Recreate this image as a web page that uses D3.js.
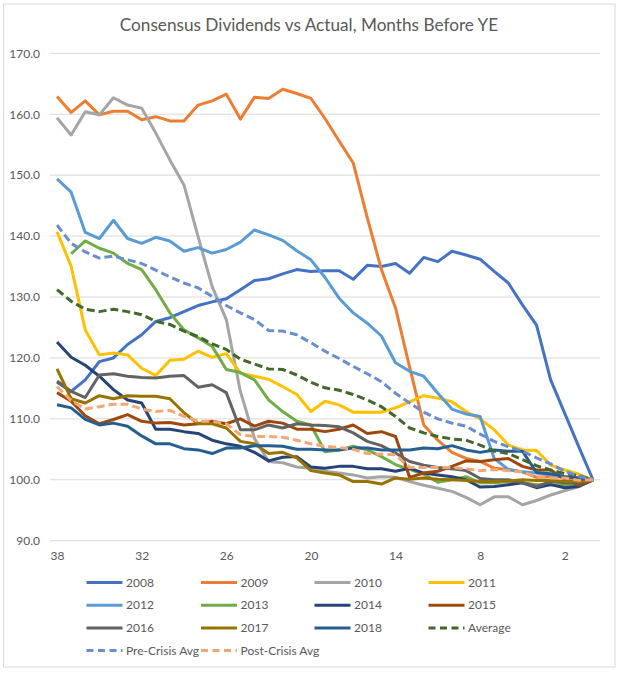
<!DOCTYPE html>
<html>
<head>
<meta charset="utf-8">
<script src="https://cdn.jsdelivr.net/npm/d3@7"></script>
<style>
  body { margin: 0; background: #fff; }
  text { font-family: Lato, "Liberation Sans", sans-serif; fill: #595959; }
</style>
</head>
<body>
<div id="chart"></div>
<script>
// months before year end, left to right
const months = d3.range(38, -1, -1);
const xTicks = [38, 32, 26, 20, 14, 8, 2];
const yTicks = [90, 100, 110, 120, 130, 140, 150, 160, 170];

const s2008 = [116, 114.5, 116.4, 119.4, 120, 122.2, 123.8, 126, 126.6, 127.6, 128.6, 129.2, 129.7, 131.2, 132.7, 133, 133.8, 134.5, 134.2, 134.3, 134.3, 132.9, 135.2, 135, 135.5, 133.9, 136.5, 135.8, 137.5, 136.9, 136.2, 134.2, 132.3, 128.7, 125.4, 116.4, 110.9, 105.4, 100];
const s2009 = [162.9, 160.3, 162.2, 159.9, 160.5, 160.5, 159.1, 159.6, 158.9, 158.9, 161.5, 162.2, 163.3, 159.2, 162.8, 162.6, 164.1, 163.4, 162.6, 159.3, 155.6, 152, 143, 134.5, 128.2, 118.5, 109, 106.5, 104.5, 103.5, 103, 101.9, 101.7, 101.3, 100.4, 100.5, 100.4, 100, 100];
const s2010 = [159.4, 156.6, 160.4, 159.9, 162.7, 161.5, 161, 156.9, 152.5, 148.4, 139.9, 131.7, 126.3, 114.5, 106.8, 103, 102.8, 102.1, 101.9, 101.4, 101.1, 100.8, 100.3, 100.5, 100.4, 99.7, 99.1, 98.6, 98.1, 97.1, 95.9, 97.2, 97.2, 95.9, 96.6, 97.5, 98.2, 98.9, 100];
const s2011 = [140.7, 135, 124.6, 120.5, 120.8, 120.5, 118.3, 117.1, 119.6, 119.8, 121.1, 120.1, 120.7, 117.5, 117, 116.5, 115.3, 114, 111.2, 112.9, 112.3, 111.1, 111.1, 111.1, 111.8, 112.8, 113.8, 113.4, 112.8, 111.2, 110, 108.2, 105.7, 104.9, 104.8, 102.4, 101.6, 100.9, 100];
const s2012 = [149.4, 147.2, 140.6, 139.6, 142.6, 139.6, 138.8, 139.8, 139.2, 137.5, 138.1, 137.2, 137.8, 139, 141, 140.2, 139.3, 137.6, 136.1, 133.2, 129.8, 127.4, 125.7, 123.6, 119.2, 117.8, 117, 114.2, 111.6, 110.8, 110.4, 103.5, 101.7, 101.3, 101.1, 100.8, 100.5, 100.3, 100];
const s2013 = [null, 137.1, 139.2, 138, 137.2, 135.5, 134.5, 131.2, 127.4, 124.6, 123.3, 121.9, 118.1, 117.6, 116.4, 113.1, 111.2, 109.6, 109, 104.6, 104.9, 105.5, 104.9, 103.8, 102.5, 101.7, 100.9, 99.6, 100, 100.5, 99.5, 99.5, 99.7, 99.5, 99.2, 99.2, 99.1, 99.2, 100];
const s2014 = [122.6, 120.1, 118.8, 117, 114.8, 113.1, 112.6, 108.3, 108.3, 107.9, 107.6, 106.5, 105.9, 105.5, 104.5, 103.1, 103.7, 103.8, 102.1, 101.9, 102.2, 102.2, 101.8, 101.8, 101.4, 101.9, 101.1, 100.8, 100.5, 100, 98.8, 98.9, 99.2, 99.5, 98.7, 99.2, 98.7, 98.9, 100];
const s2015 = [114.3, 112.9, 110.5, 109.2, 109.9, 110.7, 109.6, 109.3, 109.4, 109, 109.2, 109.6, 109.2, 110, 108.8, 109.6, 109.3, 108.3, 108.3, 107.9, 108.3, 109, 107.6, 107.9, 107.1, 100.4, 101.1, 101.4, 102.2, 103.1, 103, 103.3, 103.5, 102.2, 101.6, 101.6, 100.1, 99.1, 100];
const s2016 = [116.2, 114.5, 113.5, 117.2, 117.4, 117, 116.8, 116.7, 117, 117.1, 115.2, 115.6, 114.3, 108.2, 108.2, 109, 108.5, 109.2, 109, 108.9, 108.7, 107.7, 106.3, 105.6, 104.4, 103, 102.4, 102, 101.8, 101.5, 100.2, 100, 100, 99.5, 98.9, 99.7, 99.5, 99.5, 100];
const s2017 = [118.2, 113.3, 112.6, 113.8, 113.3, 113.8, 113.7, 113.7, 113.3, 111, 109.2, 109.2, 108.5, 106.3, 105.9, 104.3, 104.5, 103.6, 101.5, 101.1, 100.8, 99.7, 99.7, 99.3, 100.3, 100.1, 100.3, 100.1, 100, 99.9, 99.7, 99.7, 99.8, 100, 99.9, 99.9, 99.7, 99.7, 100];
const s2018 = [112.3, 111.8, 109.9, 109, 109.3, 108.8, 107.2, 105.9, 105.9, 105.1, 104.9, 104.3, 105.2, 105.2, 105.6, 105.6, 105.5, 105, 105, 104.9, 104.9, 105.2, 105.2, 104.9, 104.9, 104.9, 105.2, 105.1, 105.6, 104.9, 104.5, 104.9, 104.7, 104.7, 101.2, 101, 100.5, 100.3, 100];
const sAverage = [131.2, 129.3, 128, 127.6, 128, 127.6, 127.1, 126, 125.5, 124.4, 123.5, 122.3, 121.4, 119.8, 119, 118.2, 118.1, 117.2, 116, 115.1, 114.7, 114, 113.1, 112, 110.4, 108.5, 107.7, 107.1, 106.7, 106.5, 105.7, 104.7, 104.3, 103.3, 102.3, 101.6, 101, 100.7, 100];
const sPre = [141.8, 138.8, 137.4, 136.4, 136.7, 136.1, 135.5, 134.4, 133.3, 132.3, 131.5, 130.1, 128.6, 127.4, 126.3, 124.5, 124.4, 123.8, 122.5, 121.1, 119.9, 118.6, 117.4, 116.1, 114.2, 112.6, 111.1, 110, 109.3, 108.8, 107.5, 106.3, 105.4, 104.7, 103.6, 102.6, 101.4, 100.6, 100];
const sPost = [115.3, 113, 111.6, 112, 112.4, 112.4, 111.6, 111.2, 111.4, 110.4, 109.6, 109.6, 109.2, 107.4, 107.1, 107.1, 107, 106.5, 105.9, 105.5, 105.3, 105, 104.3, 104.2, 104.1, 102, 102, 102, 102, 101.8, 101.5, 101.7, 101.5, 101.3, 100.5, 100.3, 100.3, 99.9, 100];

const series = [
  { name: "2008", values: s2008, color: "#4472C4" },
  { name: "2009", values: s2009, color: "#ED7D31" },
  { name: "2010", values: s2010, color: "#A5A5A5" },
  { name: "2011", values: s2011, color: "#FFC000" },
  { name: "2012", values: s2012, color: "#5B9BD5" },
  { name: "2013", values: s2013, color: "#70AD47" },
  { name: "2014", values: s2014, color: "#264478" },
  { name: "2015", values: s2015, color: "#9E480E" },
  { name: "2016", values: s2016, color: "#636363" },
  { name: "2017", values: s2017, color: "#997300" },
  { name: "2018", values: s2018, color: "#255E91" },
  { name: "Average", values: sAverage, color: "#43682B", dash: "8,4" },
  { name: "Pre-Crisis Avg", values: sPre, color: "#698ED0", dash: "8,4" },
  { name: "Post-Crisis Avg", values: sPost, color: "#F4A674", dash: "8,4" }
];

const width = 620, height = 673;
const plot = { left: 50, right: 600, top: 53.3, bottom: 540.7 };

const svg = d3.select("#chart").append("svg")
  .attr("width", width)
  .attr("height", height);

// outer frame
svg.append("rect")
  .attr("x", 3.5).attr("y", 4)
  .attr("width", 611.5).attr("height", 663)
  .attr("fill", "#fff")
  .attr("stroke", "#d9d9d9");

// title
svg.append("text")
  .attr("x", 309)
  .attr("y", 31)
  .attr("text-anchor", "middle")
  .style("font-size", "17.2px")
  .text("Consensus Dividends vs Actual, Months Before YE");

const xScale = d3.scalePoint()
  .domain(months)
  .range([plot.left, plot.right])
  .padding(0.5);

const yScale = d3.scaleLinear()
  .domain([90, 170])
  .range([plot.bottom, plot.top]);

// gridlines
svg.append("g")
  .selectAll("line")
  .data(yTicks)
  .join("line")
  .attr("x1", plot.left).attr("x2", plot.right)
  .attr("y1", d => yScale(d)).attr("y2", d => yScale(d))
  .attr("stroke", "#d9d9d9")
  .attr("stroke-width", 1);

// y axis labels
const yAxis = d3.axisLeft(yScale)
  .tickValues(yTicks)
  .tickFormat(d3.format(".1f"))
  .tickSize(0)
  .tickPadding(10);

svg.append("g")
  .attr("transform", `translate(${plot.left},0)`)
  .call(yAxis)
  .call(g => g.select(".domain").remove())
  .selectAll("text")
  .style("font-size", "12px")
  .style("font-family", "Lato, sans-serif")
  .attr("fill", "#595959");

// x axis labels
const xAxis = d3.axisBottom(xScale)
  .tickValues(xTicks)
  .tickSize(0)
  .tickPadding(11);

svg.append("g")
  .attr("transform", `translate(0,${plot.bottom})`)
  .call(xAxis)
  .call(g => g.select(".domain").remove())
  .selectAll("text")
  .style("font-size", "12px")
  .style("font-family", "Lato, sans-serif")
  .attr("fill", "#595959");

// lines
const line = d3.line()
  .defined(d => d.v != null)
  .x(d => xScale(d.m))
  .y(d => yScale(d.v));

svg.append("g")
  .selectAll("path")
  .data(series)
  .join("path")
  .attr("d", s => line(months.map((m, i) => ({ m: m, v: s.values[i] }))))
  .attr("fill", "none")
  .attr("stroke", s => s.color)
  .attr("stroke-width", 3)
  .attr("stroke-linejoin", "round")
  .attr("stroke-dasharray", s => s.dash || null);

// legend, 4 per row
const legend = svg.append("g");
const colX = [86.5, 201, 314.5, 428.5];
const rowY = [582.5, 605.2, 627.9, 650.6];

const item = legend.selectAll("g")
  .data(series)
  .join("g")
  .attr("transform", (d, i) => `translate(${colX[i % 4]},${rowY[Math.floor(i / 4)]})`);

item.append("line")
  .attr("x1", 0).attr("x2", 36)
  .attr("stroke", d => d.color)
  .attr("stroke-width", 3)
  .attr("stroke-dasharray", d => d.dash ? "7,4.5" : null);

item.append("text")
  .attr("x", 39.5)
  .attr("dy", "0.35em")
  .style("font-size", "12px")
  .text(d => d.name);
</script>
</body>
</html>
